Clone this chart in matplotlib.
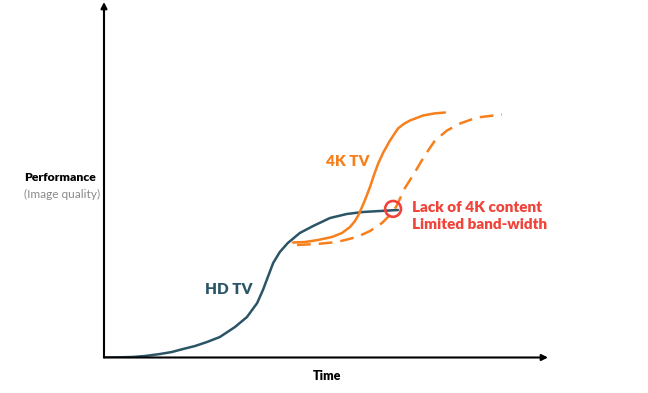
import matplotlib
matplotlib.use("Agg")
import matplotlib.pyplot as plt

plt.rcParams['font.family'] = ['Lato', 'DejaVu Sans']

# Data (time vs performance, arbitrary units 0-100)
hd_time = [0, 3.6, 6.5, 9.2, 12.6, 15.3, 17.8, 20.5, 23.2, 26.1, 29.5, 32.2, 34.5, 35.8,
           36.9, 38.1, 39.6, 41.4, 44.1, 47.1, 50.9, 54.7, 58.3, 62.2, 66.2]
hd_perf = [0, 0.06, 0.14, 0.42, 0.98, 1.55, 2.39, 3.23, 4.36, 5.77, 8.58, 11.39, 15.33, 18.99,
           22.64, 26.58, 29.68, 32.21, 35.02, 36.99, 39.24, 40.37, 40.93, 41.21, 41.49]

k4_time = [42.57, 45.27, 48.20, 51.35, 53.60, 55.41, 56.53, 57.43, 58.11, 58.78, 59.91,
           60.81, 61.71, 62.84, 64.41, 66.22, 67.57, 68.92, 71.85, 74.32, 76.80]
k4_perf = [32.35, 32.49, 33.05, 33.90, 35.02, 36.71, 38.40, 40.37, 42.33, 44.30, 47.96,
           51.34, 54.43, 57.52, 61.04, 64.43, 65.75, 66.67, 68.07, 68.64, 68.92]

k4d_time = [43.47, 47.97, 52.48, 56.98, 59.91, 62.61, 64.41, 65.77, 67.79, 70.05, 72.30,
            74.55, 77.25, 80.18, 84.01, 89.64]
k4d_perf = [31.65, 31.93, 32.49, 33.90, 35.58, 37.83, 40.08, 42.33, 47.68, 52.18, 56.96,
            61.04, 63.85, 65.82, 67.51, 68.35]

marker_time = [65.1]
marker_perf = [41.8]

hd_label = "HD TV"
k4_label = "4K TV"
note_lines = ["Lack of 4K content", "Limited band-width"]

TEAL = "#2b5466"
ORANGE = "#f77f1c"
RED = "#f0433a"

W, H = 648, 393
fig = plt.figure(figsize=(W / 100, H / 100), dpi=100)
x0, x1 = 104, 548
y0, y1 = 357.5, 2
ax = fig.add_axes([x0 / W, 1 - y0 / H, (x1 - x0) / W, (y0 - y1) / H])
ax.set_xlim(0, 100)
ax.set_ylim(0, 100)
ax.axis('off')

# Axes arrows
ax.annotate('', xy=(1.0, 0), xytext=(0, 0), xycoords='axes fraction',
            arrowprops=dict(arrowstyle='-|>', color='black', lw=1.5,
                            mutation_scale=9, shrinkA=0, shrinkB=0))
ax.annotate('', xy=(0, 1.0), xytext=(0, 0), xycoords='axes fraction',
            arrowprops=dict(arrowstyle='-|>', color='black', lw=1.5,
                            mutation_scale=9, shrinkA=0, shrinkB=0))

ax.plot(hd_time, hd_perf, color=TEAL, lw=1.8, solid_capstyle='round', solid_joinstyle='round')
ax.plot(k4_time, k4_perf, color=ORANGE, lw=1.8, solid_capstyle='round', solid_joinstyle='round')
ax.plot(k4d_time, k4d_perf, color=ORANGE, lw=1.8, dashes=(5.5, 3.2), dash_joinstyle='round')

ax.scatter(marker_time, marker_perf, s=130, facecolors='none', edgecolors=RED, linewidths=1.9, zorder=5)

ax.text(55.0, 55.0, k4_label, color=ORANGE, fontsize=11, fontweight='heavy', ha='center', va='center')
ax.text(28.2, 19.0, hd_label, color=TEAL, fontsize=11, fontweight='heavy', ha='center', va='center')
ax.text(69.4, 42.3, note_lines[0], color=RED, fontsize=11, fontweight='heavy', ha='left', va='center')
ax.text(69.4, 37.3, note_lines[1], color=RED, fontsize=11, fontweight='heavy', ha='left', va='center')

fig.text(24 / W, 1 - 178 / H, "Performance", fontsize=8.8, fontweight='heavy', ha='left', va='center', color='black')
fig.text(24 / W, 1 - 194 / H, "(Image quality)", fontsize=8.6, ha='left', va='center', color='#8a8a8a')
fig.text(327 / W, 1 - 376 / H, "Time", fontsize=9, fontweight='heavy', ha='center', va='center', color='black')

fig.savefig("out.png", dpi=100)
